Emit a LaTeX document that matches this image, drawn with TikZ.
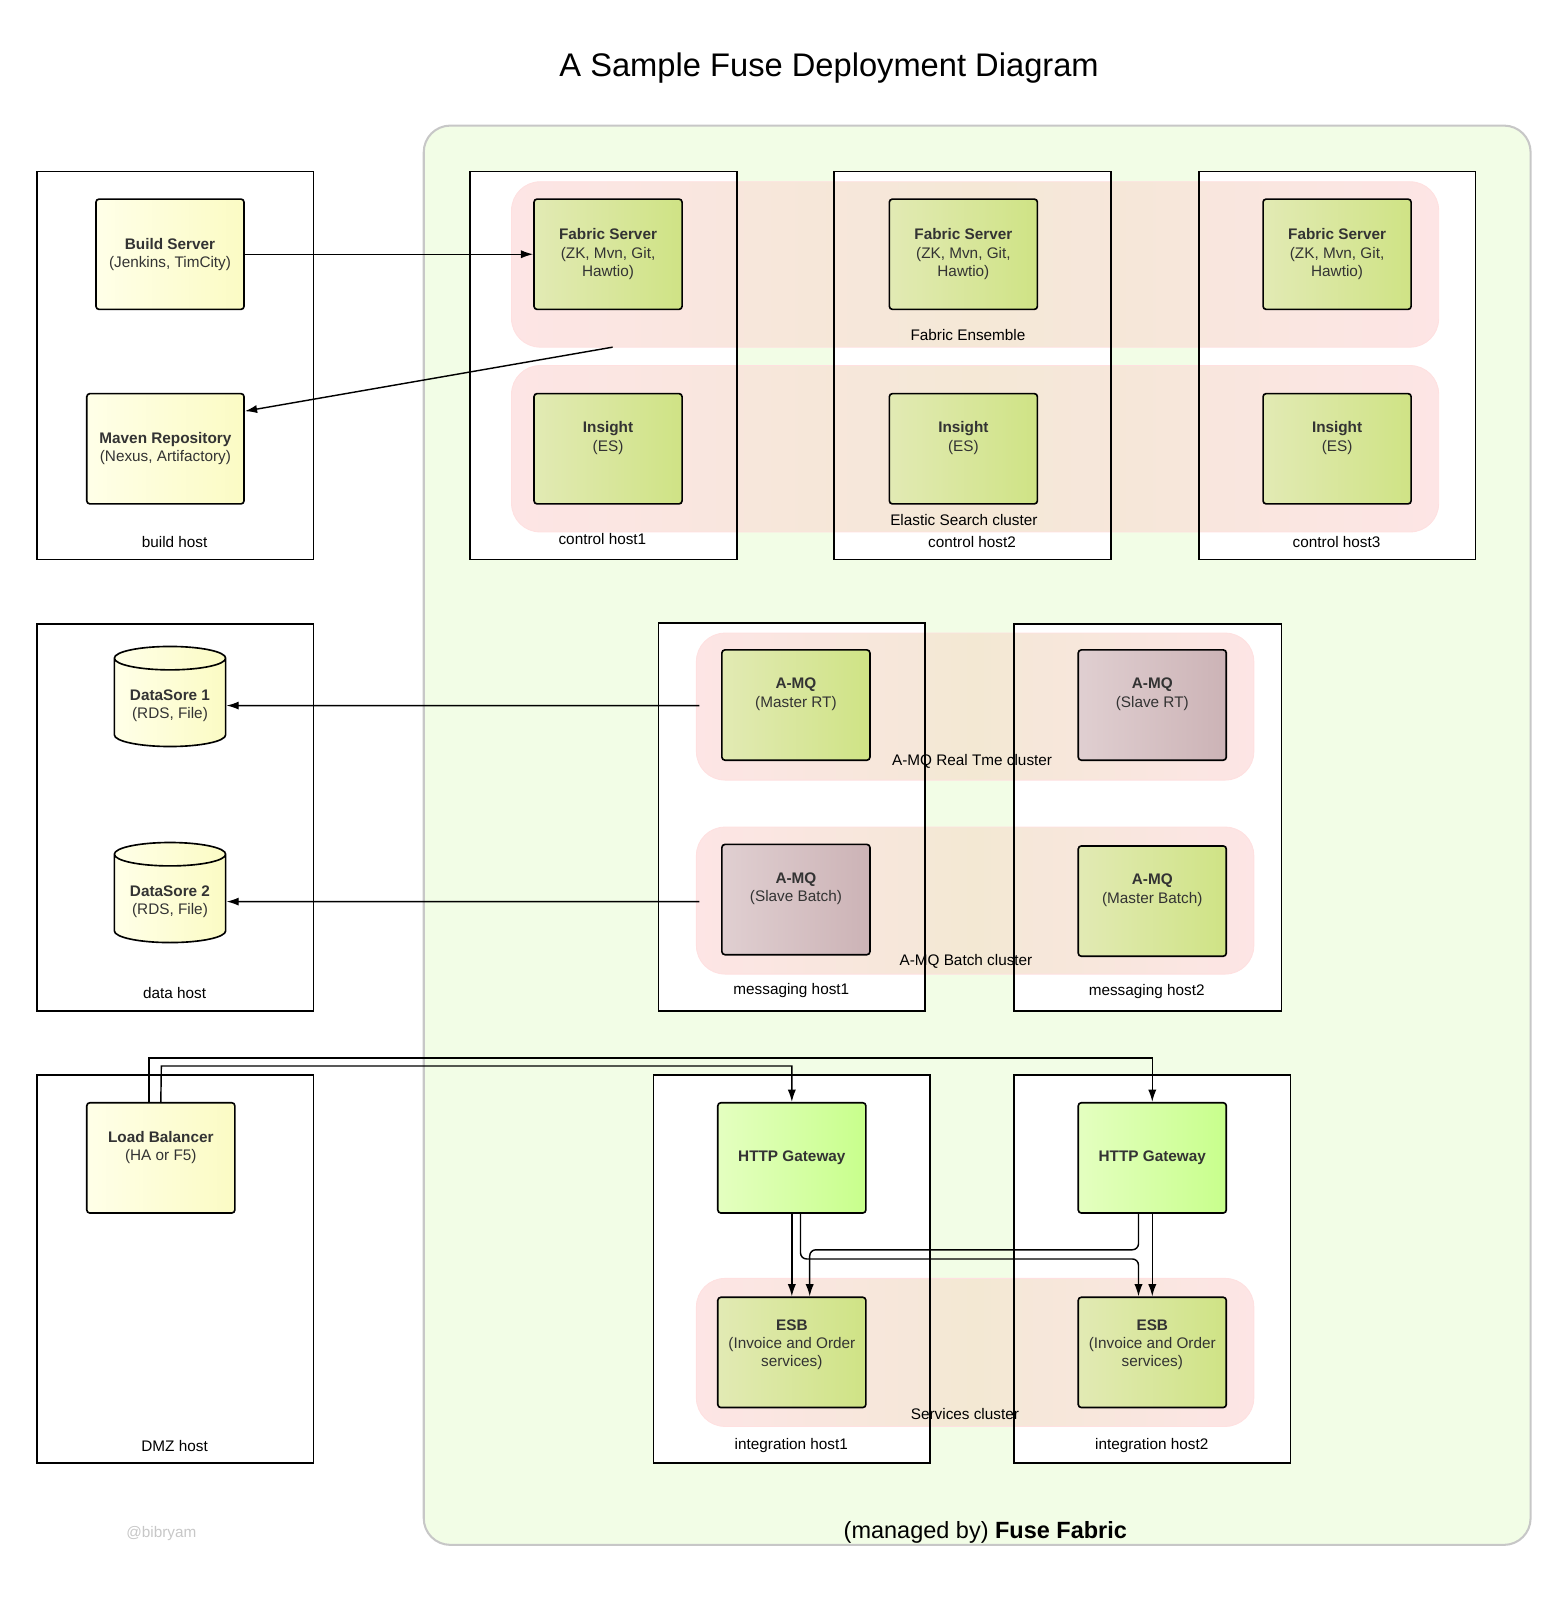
\documentclass[tikz,border=0pt]{standalone}
\usepackage{fontspec}
\setmainfont{Liberation Sans}
\usetikzlibrary{shapes.geometric,arrows.meta,calc}
\definecolor{bg}{HTML}{F2FDE6}
\definecolor{gA}{HTML}{E2EAB4}
\definecolor{gB}{HTML}{CFE385}
\definecolor{mA}{HTML}{E0CFD1}
\definecolor{mB}{HTML}{CCB3B6}
\definecolor{wA}{HTML}{E4FFC0}
\definecolor{wB}{HTML}{C8FF8C}
\definecolor{yA}{HTML}{FFFFE8}
\definecolor{yB}{HTML}{FBFBC4}
\definecolor{pk}{HTML}{FDE3E3}
\definecolor{tn}{HTML}{F4E6D2}
\begin{document}
\begin{tikzpicture}[x=0.5pt,y=-0.5pt,
 host/.style={draw=black,line width=0.8pt,fill=white},
 band/.style={rounded corners=14pt,draw=red!12,fill opacity=0.9,left color=pk,right color=pk,middle color=tn},
 comp/.style={draw=black,line width=0.8pt,rounded corners=1.5pt,minimum width=72.5pt,minimum height=54pt,align=center,font=\fontsize{7.5}{9}\selectfont,text=black!80},
 yel/.style={comp,left color=yA,right color=yB},
 grn/.style={comp,left color=gA,right color=gB},
 mau/.style={comp,left color=mA,right color=mB},
 gw/.style={comp,left color=wA,right color=wB},
 lab/.style={font=\fontsize{7.5}{9}\selectfont},
 ar/.style={-{Latex[length=6pt,width=4pt]},line width=0.7pt}]
\useasboundingbox (0,0) rectangle (1535,1567);
\node[font=\fontsize{16}{19}\selectfont] (title) at (812,67) {A Sample Fuse Deployment Diagram};
\draw[rounded corners=13pt,draw=black!22,line width=1pt,fill=bg] (415,123) rectangle (1499,1513);
\node[font=\fontsize{11.5}{13}\selectfont] (ff) at (965,1501) {(managed by) \textbf{Fuse Fabric}};
\node[lab,text=black!22] (bib) at (158,1502) {@bibryam};
% hosts
\foreach \a/\b/\c/\d in {36/168/307/548,460/168/722/548,817/168/1088/548,1174/168/1445/548,36/611/307/990,645/610/906/990,993/611/1255/990,36/1053/307/1433,640/1053/911/1433,993/1053/1264/1433}
  \draw[host] (\a,\b) rectangle (\c,\d);
% bands
\draw[band] (501,178) rectangle (1409,340);
\draw[band] (501,358) rectangle (1409,521);
\draw[band] (682,620) rectangle (1228,764);
\draw[band] (682,810) rectangle (1228,954);
\draw[band] (682,1252) rectangle (1228,1397);
% host borders again
\foreach \a/\b/\c/\d in {36/168/307/548,460/168/722/548,817/168/1088/548,1174/168/1445/548,36/611/307/990,645/610/906/990,993/611/1255/990,36/1053/307/1433,640/1053/911/1433,993/1053/1264/1433}
  \draw[line width=0.8pt] (\a,\b) rectangle (\c,\d);
% labels
\node[lab] at (171,531) {build host};
\node[lab] at (590,528) {control host1};
\node[lab] at (952,531) {control host2};
\node[lab] at (1309,531) {control host3};
\node[lab] at (171,973) {data host};
\node[lab] at (775,970) {messaging host1};
\node[lab] at (1123,971) {messaging host2};
\node[lab] at (171,1416) {DMZ host};
\node[lab] at (775,1416) {integration host1};
\node[lab] at (1128,1416) {integration host2};
\node[lab] at (948,328) {Fabric Ensemble};
\node[lab] at (944,509) {Elastic Search cluster};
\node[lab] at (952,746) {A-MQ Real Tme cluster};
\node[lab] at (946,942) {A-MQ Batch cluster};
\node[lab] at (945,1385) {Services cluster};
% components
\node[yel] (bs) at (166.5,249) {\textbf{Build Server}\\(Jenkins, TimCity)};
\node[yel,minimum width=77pt] (mv) at (162,439.5) {\textbf{Maven Repository}\\(Nexus, Artifactory)};
\foreach \n/\x in {1/595.5,2/943.5,3/1309.5}{
 \node[grn] (fs\n) at (\x,249) {\textbf{Fabric Server}\\(ZK, Mvn, Git,\\Hawtio)};
 \node[grn] (in\n) at (\x,439.5) {\textbf{Insight}\\(ES)\\[3pt]};
}
\node[grn] (mrt) at (779.5,690.5) {\textbf{A-MQ}\\(Master RT)\\[3pt]};
\node[mau] (srt) at (1128.5,690.5) {\textbf{A-MQ}\\(Slave RT)\\[3pt]};
\node[mau] (sb) at (779.5,881) {\textbf{A-MQ}\\(Slave Batch)\\[3pt]};
\node[grn] (mb) at (1128.5,882.5) {\textbf{A-MQ}\\(Master Batch)\\[3pt]};
\node[gw] (gw1) at (775.5,1134) {\textbf{HTTP Gateway}};
\node[gw] (gw2) at (1128.5,1134) {\textbf{HTTP Gateway}};
\node[grn] (esb1) at (775.5,1324.5) {\textbf{ESB}\\(Invoice and Order\\services)\\[0pt]};
\node[grn] (esb2) at (1128.5,1324.5) {\textbf{ESB}\\(Invoice and Order\\services)\\[0pt]};
\node[yel] (lb) at (157.5,1134) {\textbf{Load Balancer}\\(HA or F5)\\[3pt]};
\node[cylinder,shape border rotate=90,draw=black,line width=0.8pt,left color=yA,right color=yB,minimum width=54.5pt,minimum height=49pt,aspect=0.25,align=center,font=\fontsize{7.5}{9}\selectfont,text=black!80] (ds1) at (166.5,691) {\textbf{DataSore 1}\\(RDS, File)};
\node[cylinder,shape border rotate=90,draw=black,line width=0.8pt,left color=yA,right color=yB,minimum width=54.5pt,minimum height=49pt,aspect=0.25,align=center,font=\fontsize{7.5}{9}\selectfont,text=black!80] (ds2) at (166.5,883) {\textbf{DataSore 2}\\(RDS, File)};
% connectors
\coordinate (fe) at (600,340);
\coordinate (rt) at (685,691);
\coordinate (bt) at (685,883);
\draw[ar] (bs.east) -- (fs1.west);
\draw[ar] (fe) -- ($(mv.north east)+(0,18)$);
\draw[ar] (rt) -- (ds1.east);
\draw[ar] (bt) -- (ds2.east);
\draw[ar] (lb.north -| 146,0) -- (146,1036) -| (gw2.north);
\draw[ar] (lb.north) -- (158,1044) -| (gw1.north);
\draw[ar] (gw1.south) -- (esb1.north);
\draw[ar] (gw2.south) -- (esb2.north);
\draw[ar,rounded corners=3pt] (gw1.south -| 784,0) -- (784,1233) -- (1115,1233) -- (esb2.north -| 1115,0);
\draw[ar,rounded corners=3pt] (gw2.south -| 1115,0) -- (1115,1224) -- (793,1224) -- (esb1.north -| 793,0);
\end{tikzpicture}
\end{document}
